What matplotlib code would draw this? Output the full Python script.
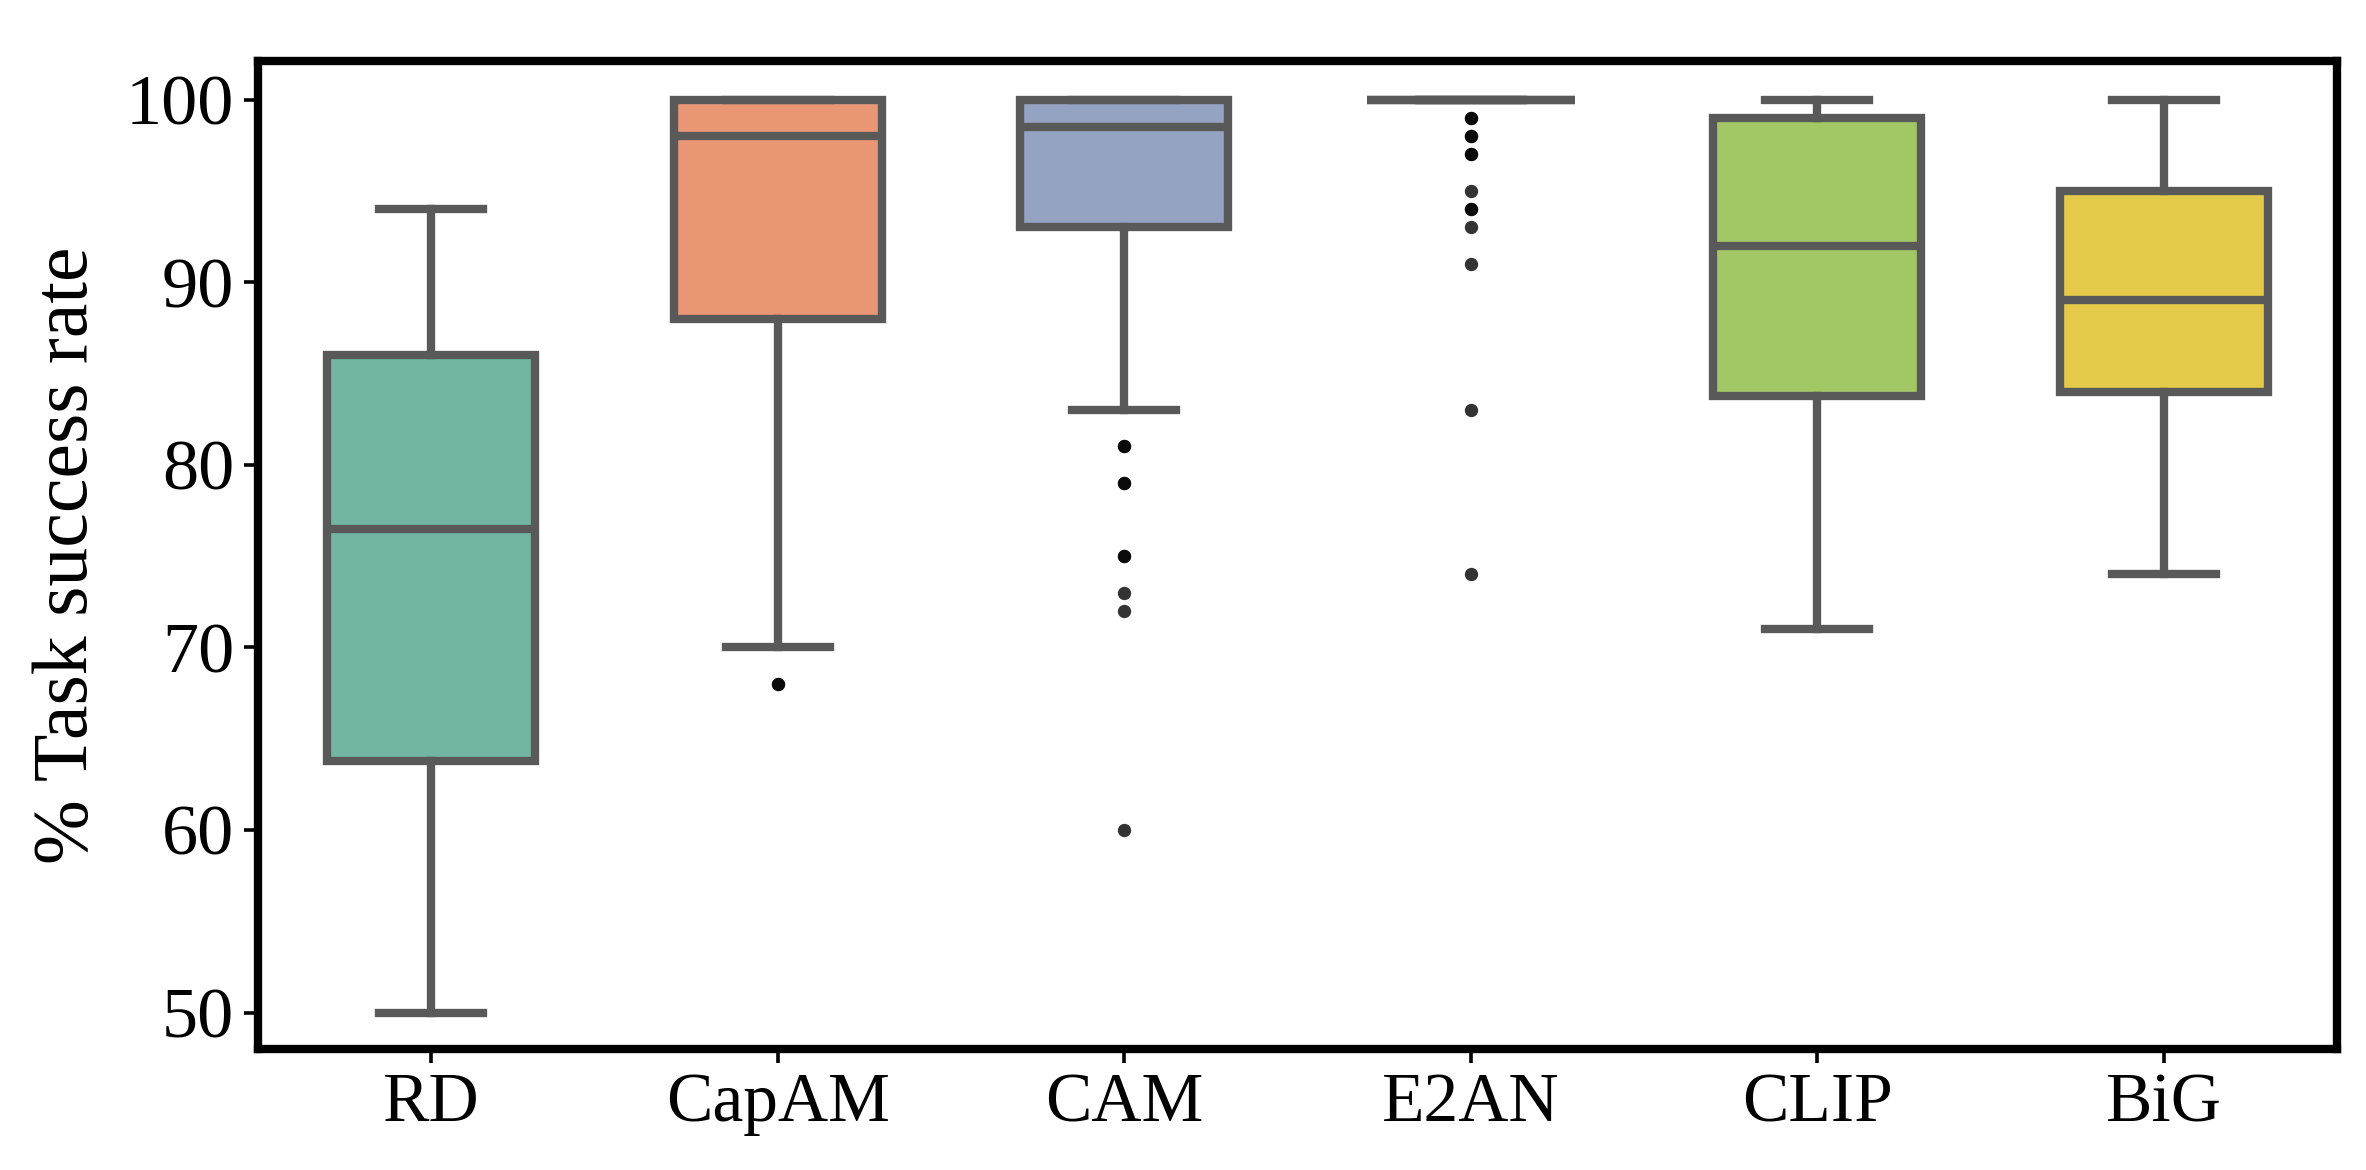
import matplotlib
matplotlib.use("Agg")
import matplotlib.pyplot as plt
import seaborn as sns

plt.rcParams['font.family'] = ['Liberation Serif', 'DejaVu Serif']

# box summary stats per method (% task success rate)
methods = ["RD", "CapAM", "CAM", "E2AN", "CLIP", "BiG"]
whislo = [50, 70, 83, 100, 71, 74]
q1 = [63.75, 88, 93, 100, 83.75, 84]
med = [76.5, 98, 98.5, 100, 92, 89]
q3 = [86, 100, 100, 100, 99, 95]
whishi = [94, 100, 100, 100, 100, 100]
# repeated values = overlapping points (they look darker in the original)
fliers = [
  [],
  [68, 68],
  [81, 81, 79, 79, 75, 75, 73, 72, 60],
  [99, 99, 98, 98, 97, 97, 95, 94, 94, 93, 91, 83, 74],
  [],
  [],
]


def main():
  colors = sns.color_palette("Set2", len(methods), desat=0.75)
  line_col = "#595959"

  fig = plt.figure(figsize=(11.83, 5.85), dpi=200)
  ax = fig.add_axes([0.109, 0.1034, 0.8787, 0.8443])

  stats = []
  for i, m in enumerate(methods):
    stats.append(dict(label=m, whislo=whislo[i], q1=q1[i], med=med[i],
                      q3=q3[i], whishi=whishi[i], fliers=fliers[i]))

  lw = 3
  bp = ax.bxp(stats, positions=range(len(methods)), widths=0.6,
              patch_artist=True, capwidths=0.3,
              boxprops=dict(edgecolor=line_col, linewidth=lw),
              whiskerprops=dict(color=line_col, linewidth=lw),
              capprops=dict(color=line_col, linewidth=lw),
              medianprops=dict(color=line_col, linewidth=lw),
              flierprops=dict(marker='o', markerfacecolor='black',
                              markeredgewidth=0, markersize=4.8, alpha=0.8,
                              linestyle='none'))
  for patch, c in zip(bp['boxes'], colors):
    patch.set_facecolor(c)

  ax.set_xlim(-0.5, len(methods) - 0.5)
  ax.set_ylim(48, 102.1)
  ax.set_yticks([50, 60, 70, 80, 90, 100])
  ax.set_xticks(range(len(methods)))
  ax.set_xticklabels(methods)
  ax.set_ylabel("% Task success rate", fontsize=28, labelpad=8)
  ax.tick_params(labelsize=25, length=5, width=1.3, color='black')
  ax.tick_params(axis='y', labelsize=26)

  for s in ax.spines.values():
    s.set_linewidth(3)
    s.set_color('black')

  fig.savefig("out.png", dpi=200)


if __name__ == "__main__":
  main()
